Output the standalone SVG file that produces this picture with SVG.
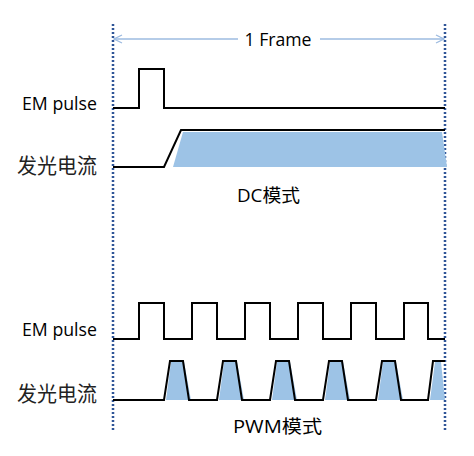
<svg xmlns="http://www.w3.org/2000/svg" width="474" height="456" viewBox="0 0 474 456">
<style>
.bg{fill:#ffffff}
.guide{stroke:#2f5597;stroke-width:2.5;stroke-dasharray:2 2;fill:none}
.arrow{stroke:#9dbbe0;stroke-width:1.3;fill:none}
.wave{stroke:#000;stroke-width:2;fill:none;stroke-linejoin:miter}
.fill{fill:#9dc3e6;stroke:none}
.en{font-family:"Open Sans","Liberation Sans",sans-serif;font-size:18px;fill:#000}
.zh{font-family:"Noto Sans CJK SC",sans-serif;font-size:21px;fill:#222}
.mix{font-family:"Open Sans","Noto Sans CJK SC",sans-serif;font-size:18px;fill:#000}
</style>
<defs>
<marker id="chev" markerWidth="10" markerHeight="10" refX="9" refY="5" orient="auto-start-reverse" markerUnits="userSpaceOnUse">
<path d="M1,1 L9,5 L1,9" fill="none" stroke="#9dbbe0" stroke-width="1.3"/>
</marker>
</defs>
<rect class="bg" x="0" y="0" width="474" height="456"/>
<g id="connectors">
<line class="guide" x1="113" y1="24" x2="113" y2="432"/>
<line class="guide" x1="445" y1="24" x2="445" y2="432"/>
<line class="arrow" x1="114" y1="39" x2="238" y2="39" marker-start="url(#chev)"/>
<line class="arrow" x1="320" y1="39" x2="444" y2="39" marker-end="url(#chev)"/>
</g>
<g id="frame-label"><text class="en" x="278" y="45.5" font-size="19" text-anchor="middle" textLength="67" lengthAdjust="spacingAndGlyphs">1 Frame</text></g>
<g id="dc-em">
<text class="en" x="22" y="110" textLength="75" lengthAdjust="spacingAndGlyphs">EM pulse</text>
<path class="wave" d="M113,108 H139 V69 H164 V108 H445"/>
</g>
<g id="dc-current">
<text class="zh" x="17" y="173" textLength="80" lengthAdjust="spacingAndGlyphs">发光电流</text>
<polygon class="fill" points="173,167 183,132 442,132 447,167"/>
<path class="wave" d="M113,167 H164 L181,130 H445"/>
</g>
<g id="dc-label"><text class="mix" x="237" y="202" textLength="63" lengthAdjust="spacingAndGlyphs">DC模式</text></g>
<g id="pwm-em">
<text class="en" x="22" y="336" textLength="75" lengthAdjust="spacingAndGlyphs">EM pulse</text>
<path class="wave" d="M113,339 H139 V303 H164 V339 H192 V303 H217 V339 H245 V303 H270 V339 H298 V303 H323 V339 H351 V303 H376 V339 H404 V303 H428 V339 H445"/>
</g>
<g id="pwm-current">
<text class="zh" x="17" y="401" textLength="80" lengthAdjust="spacingAndGlyphs">发光电流</text>
<polygon class="fill" points="166,400 171,362 184,362 191,400"/>
<polygon class="fill" points="219,400 224,362 237,362 244,400"/>
<polygon class="fill" points="272,400 277,362 290,362 297,400"/>
<polygon class="fill" points="325,400 330,362 343,362 350,400"/>
<polygon class="fill" points="378,400 383,362 396,362 403,400"/>
<polygon class="fill" points="430,400 435,362 441,362 445,400"/>
<path class="wave" d="M113,400 H164 L170,361 H183 L189,400 H217 L223,361 H236 L242,400 H270 L276,361 H289 L295,400 H323 L329,361 H342 L348,400 H376 L382,361 H395 L401,400 H428 L433,361 H445"/>
</g>
<g id="pwm-label"><text class="mix" x="233" y="433" textLength="89" lengthAdjust="spacingAndGlyphs">PWM模式</text></g>
</svg>
